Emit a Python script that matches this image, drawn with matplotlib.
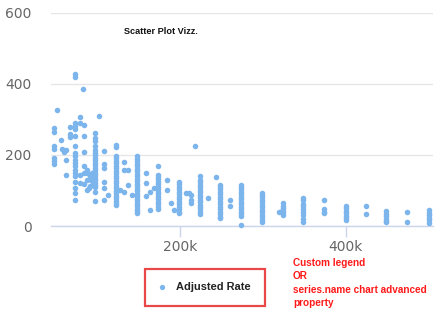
import matplotlib
matplotlib.use("Agg")
import matplotlib.pyplot as plt
from matplotlib.lines import Line2D

# loan amount in thousands -> adjusted rate, grouped by the vertical bands
col_x = [48, 74, 98, 123, 148, 174, 199, 224, 249, 274, 299, 325, 349, 374, 400, 425, 449, 474, 501]

rate_48k = [277, 264, 225, 217, 192, 182, 175]
rate_74k = [427, 418, 291, 282, 272, 253, 225, 206, 196, 187, 177, 168, 158, 149, 140, 125, 107, 92, 74]
rate_98k = [262, 248, 239, 225, 215, 206, 199, 192, 185, 178, 171, 164, 157, 150, 143, 136, 129, 122, 115, 111, 97, 69]
rate_123k = [229, 222, 196, 190, 183, 176, 169, 162, 155, 148, 141, 134, 127, 120, 113, 106, 99, 92, 85, 78, 71, 64, 58]
rate_148k = [196, 189, 182, 175, 168, 161, 154, 147, 140, 133, 126, 119, 112, 105, 98, 91, 84, 77, 70, 63, 56, 49, 42, 36]
rate_174k = [170, 144, 138, 131, 124, 117, 110, 103, 96, 89, 82, 75, 68, 61, 54, 47]
rate_199k = [123, 117, 110, 103, 96, 89, 82, 75, 68, 61, 54, 47, 40, 36]
rate_224k = [140, 130, 123, 116, 109, 102, 95, 88, 81, 74, 67, 60, 53, 47, 40, 35]
rate_249k = [116, 110, 103, 96, 89, 82, 75, 68, 61, 54, 47, 40, 33, 26, 22]
rate_274k = [116, 110, 103, 96, 89, 82, 75, 68, 61, 54, 47, 40, 33, 28, 3]
rate_299k = [94, 88, 81, 74, 67, 60, 53, 46, 39, 32, 25, 17, 12]
rate_325k = [64, 57, 50, 43, 37, 31]
rate_349k = [80, 72, 62, 55, 47, 38, 30, 20, 12]
rate_374k = [74, 47, 40, 36]
rate_400k = [57, 50, 43, 36, 29, 22, 17]
rate_425k = [55, 33]
rate_449k = [42, 35, 28, 21, 14, 10]
rate_474k = [39, 11]
rate_501k = [44, 37, 30, 23, 16, 9]

col_rates = [rate_48k, rate_74k, rate_98k, rate_123k, rate_148k, rate_174k, rate_199k,
             rate_224k, rate_249k, rate_274k, rate_299k, rate_325k, rate_349k, rate_374k,
             rate_400k, rate_425k, rate_449k, rate_474k, rate_501k]

# loose points between the bands
stray_x = [52, 56, 58, 60, 62, 62, 62, 67, 67, 67, 79, 79, 84, 84, 83, 84, 84, 84, 84,
           79, 79, 88, 88, 88, 88, 91, 93, 95, 92, 90, 94, 103,
           109, 109, 109, 109, 109, 109, 113, 128, 133, 133, 132, 138, 138, 142,
           159, 159, 159, 164, 164, 169, 184, 184, 189, 193,
           208, 211, 214, 214, 214, 218, 234, 244, 260, 260, 320, 323]
stray_y = [326, 242, 217, 208, 213, 185, 144, 278, 258, 251, 308, 290, 284, 254, 385, 208, 170, 150, 118,
           144, 121, 158, 149, 130, 102, 140, 128, 120, 113, 106, 150, 309,
           210, 173, 163, 125, 107, 74, 88, 102, 97, 180, 158, 157, 116, 88,
           149, 121, 83, 97, 45, 107, 130, 102, 64, 45,
           92, 92, 74, 64, 88, 225, 78, 138, 74, 57, 38, 42]

x_ticks = [200, 400]
x_tick_labels = ["200k", "400k"]
y_ticks = [0, 200, 400, 600]

series_name = "Adjusted Rate"
point_color = "#7cb5ec"

xs = []
ys = []
for x, rates in zip(col_x, col_rates):
    xs += [x] * len(rates)
    ys += rates
xs += stray_x
ys += stray_y

fig = plt.figure(figsize=(4.43, 3.24), dpi=100)
ax = fig.add_axes([51 / 443, 1 - 226 / 324, 382 / 443, 213.3 / 324])

ax.scatter(xs, ys, s=16, color=point_color, linewidths=0, clip_on=False, zorder=3)

ax.set_xlim(44.5, 505.5)
ax.set_ylim(0, 600)
ax.set_xticks(x_ticks)
ax.set_xticklabels(x_tick_labels)
ax.set_yticks(y_ticks)

for side in ["top", "right", "left"]:
    ax.spines[side].set_visible(False)
ax.spines["bottom"].set_color("#ccd6eb")
ax.spines["bottom"].set_linewidth(1)
ax.yaxis.grid(True, color="#e6e6e6", linewidth=1)
ax.set_axisbelow(True)

ax.tick_params(axis="x", length=8, width=1, color="#ccd6eb", pad=2, labelsize=10, labelcolor="#666666")
ax.tick_params(axis="y", length=0, pad=14, labelsize=10, labelcolor="#666666")

fig.text(161 / 443, 1 - 32 / 324, "Scatter Plot Vizz.", ha="center", va="center",
         fontsize=6.6, fontweight="bold", color="#111111",
         family=["Liberation Sans", "DejaVu Sans"])

handle = Line2D([], [], marker="o", linestyle="none", markersize=3.8,
                markerfacecolor=point_color, markeredgewidth=0)
leg = fig.legend([handle], [series_name], loc="center",
                 bbox_to_anchor=(205 / 443, 1 - 287.5 / 324),
                 frameon=True, fancybox=False, borderpad=1.25,
                 handlelength=0.6, handletextpad=1.0, borderaxespad=0,
                 prop={"family": ["Liberation Sans", "DejaVu Sans"],
                       "weight": "bold", "size": 7.9})
leg.get_frame().set_edgecolor("#e41a1c")
leg.get_frame().set_linewidth(1.6)
for t in leg.get_texts():
    t.set_color("#222222")

fig.text(293 / 443, 1 - 283 / 324, "Custom legend\nOR\nseries.name chart advanced\nproperty",
         ha="left", va="center", fontsize=7.2, fontweight="bold", color="#ff1a1a",
         linespacing=1.38, family=["Liberation Sans", "DejaVu Sans"])

fig.savefig("out.png", dpi=100)
